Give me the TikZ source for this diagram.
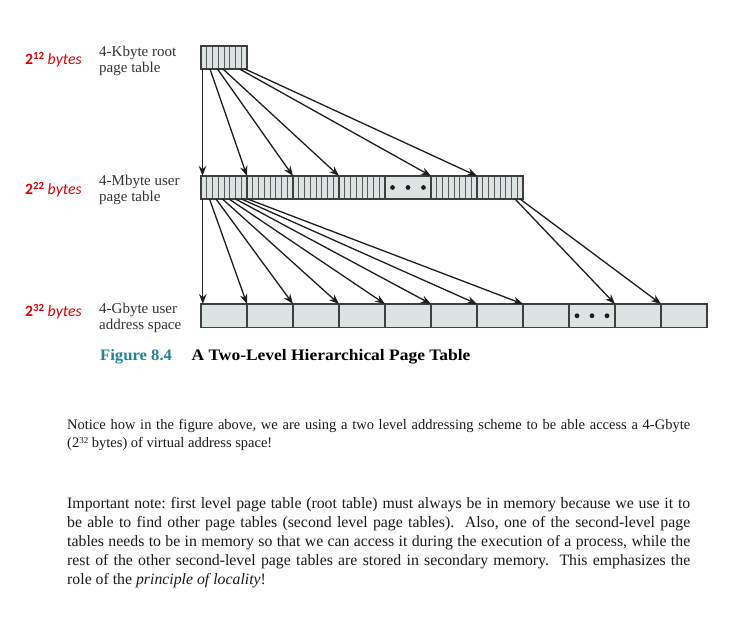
\documentclass[tikz,border=0pt]{standalone}
\usepackage{fontspec}
\setmainfont{Liberation Serif}
\newfontfamily\carl{Carlito}
\usetikzlibrary{arrows.meta,calc}
\definecolor{cellfill}{HTML}{DCE4E3}
\definecolor{edgec}{HTML}{3F3F3F}
\definecolor{thinc}{HTML}{5A5A5A}
\definecolor{arrc}{HTML}{1E1E1E}
\definecolor{redlab}{HTML}{E00000}
\definecolor{figteal}{HTML}{1E8496}
\definecolor{labc}{HTML}{333333}
\definecolor{bodyc}{HTML}{1A1A1A}
\begin{document}
\frenchspacing
\begin{tikzpicture}[x=1pt,y=-1pt,
  grp/.style={draw=edgec, fill=cellfill, line width=1.1pt, minimum width=46pt, minimum height=23pt, inner sep=0pt, outer sep=0pt, anchor=north west},
  thinline/.style={draw=thinc, line width=0.65pt},
  link/.style={draw=arrc, line width=1.3pt, -{Stealth[length=10pt,width=7.5pt]}},
  dotc/.style={fill=arrc},
  lab/.style={anchor=base west, inner sep=0pt, align=left, text=labc, font=\fontsize{15}{16}\selectfont},
  redl/.style={anchor=base west, inner sep=0pt, text=redlab, font=\carl\fontsize{15.8}{18}\selectfont},
  caplab/.style={anchor=base west, inner sep=0pt, font=\bfseries\fontsize{16}{18}\selectfont},
  paraA/.style={anchor=base west, inner sep=0pt, text=bodyc, font=\fontsize{14.5}{18}\selectfont},
  paraB/.style={anchor=base west, inner sep=0pt, text=bodyc, font=\fontsize{15.8}{19}\selectfont}
]
\useasboundingbox (0,0) rectangle (746,644);

% root table
\node[grp] (root) at (201,46) {};
\foreach \i in {1,...,7} \draw[thinline] ($(root.north west)+(5.75*\i,0)$) -- ($(root.south west)+(5.75*\i,0)$);
\draw[edgec, line width=1.1pt] (root.north west) rectangle (root.south east);

% middle table
\foreach \i in {1,...,7} \node[grp] (m\i) at (201+46*\i-46,176) {};
\foreach \g in {1,2,3,4,6,7} {
  \foreach \i in {1,...,7} \draw[thinline] ($(m\g.north west)+(5.75*\i,0)$) -- ($(m\g.south west)+(5.75*\i,0)$);
}
\foreach \g in {1,...,7} \draw[edgec, line width=1.1pt] (m\g.north west) rectangle (m\g.south east);
\fill[dotc] (m5.center) circle (2.4pt);
\fill[dotc] ($(m5.center)+(-15.5,0)$) circle (2.4pt);
\fill[dotc] ($(m5.center)+(15.5,0)$) circle (2.4pt);

% bottom table
\foreach \i in {1,...,11} \node[grp, minimum height=23.5pt] (b\i) at (201+46*\i-46,304) {};
\fill[dotc] (b9.center) circle (2.4pt);
\fill[dotc] ($(b9.center)+(-15,0)$) circle (2.4pt);
\fill[dotc] ($(b9.center)+(15,0)$) circle (2.4pt);

% root -> middle
\draw[link] ($(root.south west)+(1.5,0)$) -- ($(m1.north west)+(1.5,0)$);
\draw[link] ($(root.south west)+(9,0)$) -- (m2.north west);
\draw[link] ($(root.south west)+(16.5,0)$) -- (m3.north west);
\draw[link] ($(root.south west)+(22,0)$) -- (m4.north west);
\draw[link] ($(root.south west)+(38.5,0)$) -- (m6.north west);
\draw[link] ($(root.south west)+(44,0)$) -- (m7.north west);

% middle -> bottom
\draw[link] ($(m1.south west)+(1.8,0)$) -- ($(b1.north west)+(1.8,0)$);
\draw[link] ($(m1.south west)+(8.5,0)$) -- (b2.north west);
\draw[link] ($(m1.south west)+(15,0)$) -- (b3.north west);
\draw[link] ($(m1.south west)+(21.5,0)$) -- (b4.north west);
\draw[link] ($(m1.south west)+(28,0)$) -- (b5.north west);
\draw[link] ($(m1.south west)+(34.5,0)$) -- (b6.north west);
\draw[link] ($(m1.south west)+(40.5,0)$) -- (b7.north west);
\draw[link] ($(m1.south west)+(46.5,0)$) -- (b8.north west);
\draw[link] ($(m7.south west)+(38,0)$) -- (b10.north west);
\draw[link] ($(m7.south west)+(43,0)$) -- (b11.north west);

% labels
\node[redl] (r1) at (25,65) {{\bfseries 2\raisebox{5pt}{\fontsize{10.8}{10}\selectfont 12}} {\itshape bytes}};
\node[redl] (r2) at (25,195) {{\bfseries 2\raisebox{5pt}{\fontsize{10.8}{10}\selectfont 22}} {\itshape bytes}};
\node[redl] (r3) at (25,316.5) {{\bfseries 2\raisebox{5pt}{\fontsize{10.8}{10}\selectfont 32}} {\itshape bytes}};
\node[lab] (l1) at (99,72.5) {4-Kbyte root\\page table};
\node[lab] (l2) at (99,201.5) {4-Mbyte user\\page table};
\node[lab] (l3) at (99,329.5) {4-Gbyte user\\address space};

% caption
\node[caplab, text=figteal] (c1) at (100,360) {\scalebox{1.04}[1]{Figure 8.4}};
\node[caplab, text=black] (c2) at (191.5,360) {\scalebox{1.09}[1]{A Two-Level Hierarchical Page Table}};

% paragraph 1
\node[paraA] (pa1) at (67,429) {\makebox[623pt][s]{Notice how in the figure above, we are using a two level addressing scheme to be able access a 4-Gbyte}};
\node[paraA] (pa2) at (67,447) {(2\raisebox{4pt}{\fontsize{9}{9}\selectfont 32} bytes) of virtual address space!};

% paragraph 2
\node[paraB] (pb1) at (67,508) {\makebox[623pt][s]{Important note: first level page table (root table) must always be in memory because we use it to}};
\node[paraB] (pb2) at (67,527) {\makebox[623pt][s]{be able to find other page tables (second level page tables).\ \ Also, one of the second-level page}};
\node[paraB] (pb3) at (67,546) {\makebox[623pt][s]{tables needs to be in memory so that we can access it during the execution of a process, while the}};
\node[paraB] (pb4) at (67,565) {\makebox[623pt][s]{rest of the other second-level page tables are stored in secondary memory.\ \ This emphasizes the}};
\node[paraB] (pb5) at (67,584) {role of the \textit{principle of locality}!};
\end{tikzpicture}
\end{document}
